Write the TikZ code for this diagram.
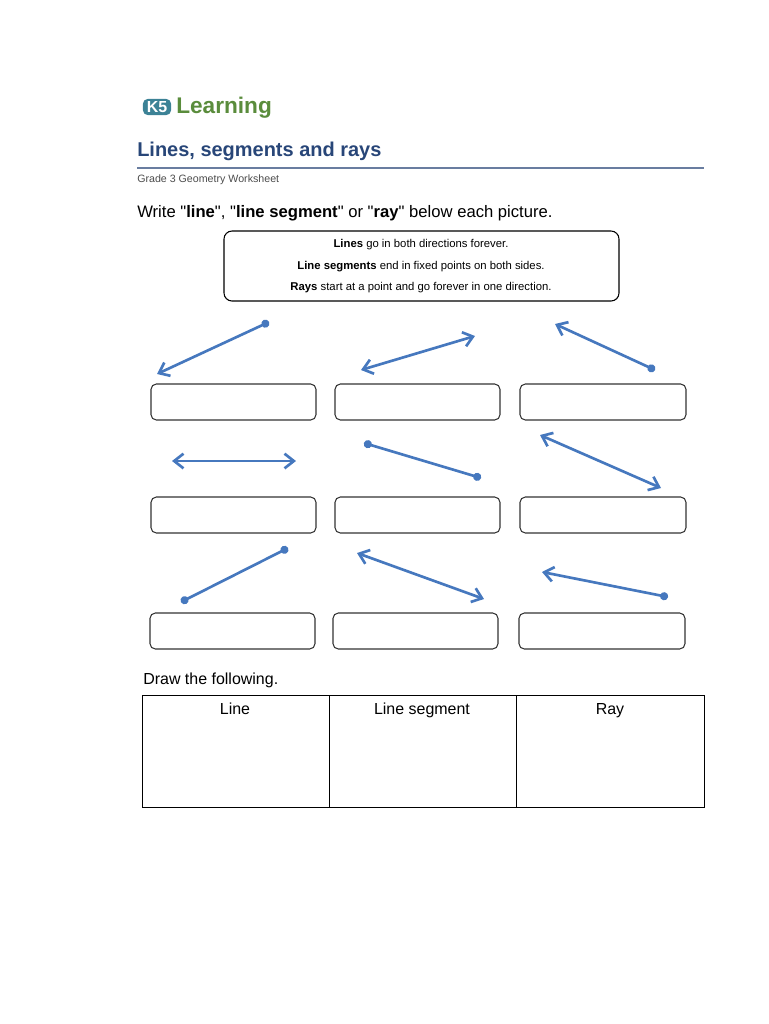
\documentclass[tikz,border=0pt]{standalone}
\usepackage{fontspec}
\setmainfont{Liberation Sans}[Ligatures=ResetAll]
\usetikzlibrary{arrows.meta}
\definecolor{kblue}{RGB}{70,120,190}
\definecolor{ktitle}{RGB}{40,70,120}
\definecolor{kgreen}{RGB}{90,140,60}
\definecolor{kteal}{RGB}{60,130,150}
\newcommand{\dq}{\XeTeXglyph\XeTeXcharglyph"22\relax}
\tikzset{
  answer/.style={draw=black!80, rounded corners=4pt, thick},
  ray/.style={kblue, line width=2pt, {Circle[length=6pt]}-{Straight Barb[length=7pt,width=11pt]}},
  dline/.style={kblue, line width=2pt, {Straight Barb[length=7pt,width=11pt]}-{Straight Barb[length=7pt,width=11pt]}},
  seg/.style={kblue, line width=2pt, {Circle[length=6pt]}-{Circle[length=6pt]}},
  head/.style={font=\fontsize{12}{14}\selectfont, anchor=base}
}
\begin{document}
\begin{tikzpicture}[x=0.0264cm, y=-0.0264cm]
  \useasboundingbox (0,0) rectangle (768,1024);
  % logo
  \node[fill=kteal, rounded corners=4pt, text=white, font=\bfseries\large, inner xsep=3pt, inner ysep=2pt] (logo) at (157,107) {K5};
  \node[anchor=west, text=kgreen, font=\bfseries\fontsize{17}{20}\selectfont, inner sep=0pt] (learn) at (176,108) {Learning};
  % header
  \node[anchor=west, text=ktitle, font=\bfseries\fontsize{15}{18}\selectfont, inner sep=0pt] (title) at (137,151) {Lines, segments and rays};
  \draw[ktitle!70, thick] (137,168) -- (704,168);
  \node[anchor=west, text=black!70, font=\fontsize{8}{10}\selectfont, inner sep=0pt] (grade) at (137,180) {Grade 3 Geometry Worksheet};
  \node[anchor=west, font=\fontsize{12.5}{15}\selectfont, inner sep=0pt] (task) at (137,213) {Write \dq\textbf{line}\dq, \dq\textbf{line segment}\dq{} or \dq\textbf{ray}\dq{} below each picture.};
  % info box
  \draw[black, thick, rounded corners=6pt] (224,231) rectangle (619,301);
  \node[font=\fontsize{8.5}{10}\selectfont] (info1) at (421,245) {\textbf{Lines} go in both directions forever.};
  \node[font=\fontsize{8.5}{10}\selectfont] (info2) at (421,267) {\textbf{Line segments} end in fixed points on both sides.};
  \node[font=\fontsize{8.5}{10}\selectfont] (info3) at (421,288) {\textbf{Rays} start at a point and go forever in one direction.};
  % figures
  \coordinate (a1) at (269,322); \coordinate (a2) at (157,374);
  \coordinate (b1) at (361,370); \coordinate (b2) at (475,336);
  \coordinate (c1) at (655,370); \coordinate (c2) at (555,324);
  \coordinate (d1) at (172,461); \coordinate (d2) at (296,461);
  \coordinate (e1) at (364,443); \coordinate (e2) at (481,478);
  \coordinate (f1) at (540,435); \coordinate (f2) at (661,488);
  \coordinate (g1) at (181,602); \coordinate (g2) at (288,548);
  \coordinate (h1) at (357,553); \coordinate (h2) at (484,599);
  \coordinate (i1) at (668,597); \coordinate (i2) at (542,572);
  \draw[ray] (a1) -- (a2);
  \draw[dline] (b1) -- (b2);
  \draw[ray] (c1) -- (c2);
  \draw[dline] (d1) -- (d2);
  \draw[seg] (e1) -- (e2);
  \draw[dline] (f1) -- (f2);
  \draw[seg] (g1) -- (g2);
  \draw[dline] (h1) -- (h2);
  \draw[ray] (i1) -- (i2);
  % answer boxes
  \foreach \y in {384,497} {
    \draw[answer] (151,\y) rectangle ++(165,36);
    \draw[answer] (335,\y) rectangle ++(165,36);
    \draw[answer] (520,\y) rectangle ++(166,36);
  }
  \draw[answer] (150,613) rectangle ++(165,36);
  \draw[answer] (333,613) rectangle ++(165,36);
  \draw[answer] (519,613) rectangle ++(166,36);
  % drawing table
  \node[anchor=west, font=\fontsize{12}{14}\selectfont, inner sep=0pt] (draw) at (143,680) {Draw the following.};
  \draw[black, semithick] (142,695) rectangle (704,807);
  \draw[black, semithick] (329,695) -- (329,807);
  \draw[black, semithick] (516,695) -- (516,807);
  \node[head] (hline) at (235,714) {Line};
  \node[head] (hseg) at (422,714) {Line segment};
  \node[head] (hray) at (610,714) {Ray};
\end{tikzpicture}
\end{document}
